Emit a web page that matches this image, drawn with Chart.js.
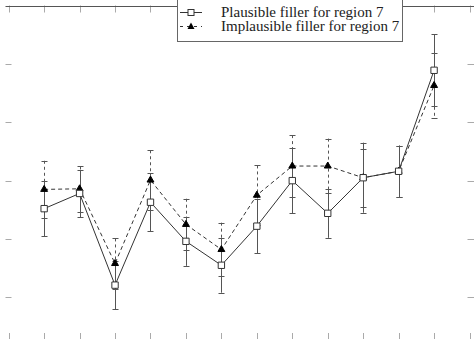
<!DOCTYPE html>
<html>
<head>
<meta charset="utf-8">
<script src="https://cdn.jsdelivr.net/npm/chart.js@4.4.1/dist/chart.umd.min.js"></script>
<style>
  body { margin: 0; background: #fff; }
  #wrap { position: relative; width: 474px; height: 339px; overflow: hidden; background: #fff; }
  #box { position: absolute; left: 0; top: 0; width: 480px; height: 360px; }
  #legend {
    position: absolute; left: 177px; top: -10px; width: 224px; height: 50px;
    border: 1px solid #666; background: #fff;
    font-family: "Liberation Serif", "DejaVu Serif", serif; font-size: 15px; color: #222;
  }
  #legend .row { position: absolute; left: 0; height: 14px; line-height: 14px; white-space: nowrap; }
  #legend svg { position: absolute; left: 2px; top: 0; }
  #legend span { position: absolute; left: 43px; top: 0; }
</style>
</head>
<body>
<div id="wrap">
  <div id="box"><canvas id="chart"></canvas></div>
  <div id="legend"></div>
</div>
<script>
// x positions of the regions and the two series
const positions = [1, 2, 3, 4, 5, 6, 7, 8, 9, 10, 11, 12];
const plausible = [2.52, 2.78, 1.21, 2.63, 1.96, 1.55, 2.22, 3.00, 2.44, 3.05, 3.16, 4.89];
const plausibleErr = [0.47, 0.41, 0.41, 0.50, 0.42, 0.47, 0.46, 0.56, 0.42, 0.60, 0.44, 0.62];
const implausible = [2.85, 2.86, 1.58, 3.01, 2.25, 1.82, 2.75, 3.25, 3.25, 3.05, 3.16, 4.63];
const implausibleErr = [0.49, 0.39, 0.43, 0.51, 0.44, 0.46, 0.51, 0.53, 0.47, 0.50, 0.44, 0.56];
const xTicks = [0, 1, 2, 3, 4, 5, 6, 7, 8, 9, 10, 11, 12, 13];
const yTicks = [1, 2, 3, 4, 5];

const toPoints = vals => vals.map((v, i) => ({ x: positions[i], y: v }));

// frame, inward ticks and error bars
const framePlugin = {
    id: 'frame',
    beforeDatasetsDraw(chart) {
        const { ctx, chartArea: a, scales: { x, y } } = chart;
        ctx.save();
        ctx.lineWidth = 1;

        // ticks
        ctx.strokeStyle = '#aaa';
        xTicks.forEach(v => {
            const px = Math.round(x.getPixelForValue(v)) + 0.5;
            ctx.beginPath();
            ctx.moveTo(px, a.top); ctx.lineTo(px, a.top + 7);
            ctx.moveTo(px, a.bottom); ctx.lineTo(px, a.bottom - 7);
            ctx.stroke();
        });
        yTicks.forEach(v => {
            const py = Math.round(y.getPixelForValue(v)) + 0.5;
            ctx.beginPath();
            ctx.moveTo(a.left, py); ctx.lineTo(a.left + 6, py);
            ctx.moveTo(a.right, py); ctx.lineTo(a.right - 7, py);
            ctx.stroke();
        });

        // top edge of the frame (the other edges fall outside the crop)
        ctx.strokeStyle = '#555';
        const top = Math.round(a.top) + 0.5;
        ctx.beginPath();
        ctx.moveTo(a.left, top); ctx.lineTo(a.right, top);
        ctx.stroke();

        // error bars
        chart.data.datasets.forEach((ds, i) => {
            ctx.strokeStyle = '#555';
            ctx.setLineDash(i ? [3, 3] : []);
            ds.data.forEach((p, j) => {
                const px = Math.round(x.getPixelForValue(p.x)) + 0.5;
                const hi = y.getPixelForValue(p.y + ds.err[j]);
                const lo = y.getPixelForValue(p.y - ds.err[j]);
                ctx.beginPath();
                ctx.moveTo(px, hi); ctx.lineTo(px, lo);
                ctx.stroke();
                ctx.setLineDash([]);
                ctx.beginPath();
                ctx.moveTo(px - 3, Math.round(hi) + 0.5); ctx.lineTo(px + 3, Math.round(hi) + 0.5);
                ctx.moveTo(px - 3, Math.round(lo) + 0.5); ctx.lineTo(px + 3, Math.round(lo) + 0.5);
                ctx.stroke();
                ctx.setLineDash(i ? [3, 3] : []);
            });
        });
        ctx.restore();
    }
};

const chart = new Chart(document.getElementById('chart').getContext('2d'), {
    type: 'line',
    data: {
        datasets: [
            {
                label: 'Plausible filler for region 7',
                data: toPoints(plausible), err: plausibleErr,
                borderColor: '#333', borderWidth: 1,
                pointStyle: 'rect', pointRadius: 4.5, pointBackgroundColor: '#fff',
                pointBorderColor: '#333', pointBorderWidth: 1, tension: 0
            },
            {
                label: 'Implausible filler for region 7',
                data: toPoints(implausible), err: implausibleErr,
                borderColor: '#333', borderWidth: 1, borderDash: [4, 3],
                pointStyle: 'triangle', pointRadius: 4, pointBackgroundColor: '#000',
                pointBorderColor: '#000', pointBorderWidth: 1, tension: 0
            }
        ]
    },
    options: {
        responsive: true,
        maintainAspectRatio: false,
        animation: false,
        layout: { padding: { left: 0, top: 5, right: 4, bottom: 20 } },
        plugins: { legend: { display: false }, tooltip: { enabled: false } },
        scales: {
            x: { type: 'linear', min: -0.09, max: 13.14, display: false },
            y: { type: 'linear', min: 0.27, max: 6, display: false }
        }
    },
    plugins: [framePlugin]
});

// html legend from the datasets
const samples = [
    '<svg width="22" height="14"><line x1="0" y1="7.5" x2="22" y2="7.5" stroke="#333"/><rect x="8" y="4.5" width="6" height="6" fill="#fff" stroke="#333"/></svg>',
    '<svg width="22" height="14"><line x1="0" y1="7.5" x2="22" y2="7.5" stroke="#333" stroke-dasharray="3,4"/><polygon points="11,3.5 14.5,10 7.5,10" fill="#000"/></svg>'
];
document.getElementById('legend').innerHTML = chart.data.datasets.map((ds, i) =>
    `<div class="row" style="top:${i ? 28 : 14}px">${samples[i]}<span>${ds.label}</span></div>`
).join('');
</script>
</body>
</html>
